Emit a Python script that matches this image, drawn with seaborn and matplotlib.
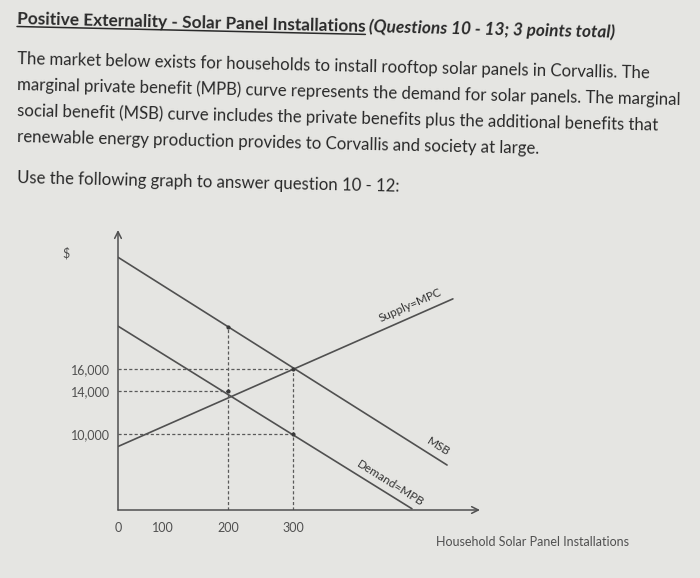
import numpy as np
import pandas as pd
import matplotlib
matplotlib.use("Agg")
import matplotlib.pyplot as plt
from matplotlib.lines import Line2D
import seaborn as sns

# ------------------------------------------------------------------
# Values
# ------------------------------------------------------------------
tick_quantities = [100, 200, 300]
tick_prices = [10000, 14000, 16000]
tick_price_labels = ["10,000", "14,000", "16,000"]

# end points of the three straight curves (installations, $)
msb_q = [31, 537]
msb_price = [26200, 7200]
mpb_q = [31, 483]
mpb_price = [19900, 3200]
mpc_q = [31, 546]
mpc_price = [8900, 22400]

# market and social optimum
q_market, p_market = 200, 14000
q_social, p_social = 300, 16000
p_mpb_at_social = 10000

title_main = "Positive Externality - Solar Panel Installations"
title_note = " (Questions 10 - 13; 3 points total)"
body_lines = [
    "The market below exists for households to install rooftop solar panels in Corvallis. The",
    "marginal private benefit (MPB) curve represents the demand for solar panels. The marginal",
    "social benefit (MSB) curve includes the private benefits plus the additional benefits that",
    "renewable energy production provides to Corvallis and society at large.",
]
question_line = "Use the following graph to answer question 10 - 12:"

# ------------------------------------------------------------------
# Style
# ------------------------------------------------------------------
sns.set_theme(style="white")
plt.rcParams["font.family"] = ["Lato", "DejaVu Sans"]

bg = "#e5e5e2"
ink = "#2a2a2a"
grey = "#505050"
W, H = 700, 578
tilt = 1.3  # the photo is slightly rotated

fig = plt.figure(figsize=(W / 100, H / 100), dpi=100, facecolor=bg)
renderer = fig.canvas.get_renderer()


def put(x, y, s, **kw):
    # x, y are pixels from the top-left corner, y is the baseline
    return fig.text(x / W, 1 - y / H, s, ha="left", va="baseline",
                    rotation=-tilt, rotation_mode="anchor", color=ink, **kw)


# ------------------------------------------------------------------
# Worksheet text
# ------------------------------------------------------------------
t1 = fig.text(17 / W, 1 - 24 / H, title_main, ha="left", va="baseline",
              fontsize=12.4, fontweight="bold", color=ink)
w1 = t1.get_window_extent(renderer).width
t1.set_rotation(-tilt)
t1.set_rotation_mode("anchor")
ang = np.deg2rad(tilt)
put(17 + w1 * np.cos(ang), 24 + w1 * np.sin(ang), title_note,
    fontsize=12.4, fontweight="bold", fontstyle="italic")
# underline of the first part
ux = [17, 17 + w1 * np.cos(ang)]
uy = [26.5, 26.5 + w1 * np.sin(ang)]
fig.add_artist(Line2D([x / W for x in ux], [1 - y / H for y in uy],
                      color=ink, lw=1.1, transform=fig.transFigure))

for i, line in enumerate(body_lines):
    put(17, 64 + 26 * i, line, fontsize=12.1)
put(17, 183, question_line, fontsize=12.1)

# ------------------------------------------------------------------
# Graph
# ------------------------------------------------------------------
ax = fig.add_axes([118 / W, 1 - 510 / H, 362 / W, 280 / H])
ax.patch.set_alpha(0)
x0, x1 = 30.8, 587.7
y0, y1 = 3086, 28700
ax.set_xlim(x0, x1)
ax.set_ylim(y0, y1)

curves = pd.DataFrame({
    "q": msb_q + mpb_q + mpc_q,
    "price": msb_price + mpb_price + mpc_price,
    "curve": ["MSB"] * 2 + ["Demand=MPB"] * 2 + ["Supply=MPC"] * 2,
})
sns.lineplot(data=curves, x="q", y="price", hue="curve",
             palette={"MSB": grey, "Demand=MPB": grey, "Supply=MPC": grey},
             linewidth=1.2, legend=False, ax=ax)

# dashed guide lines
guide = dict(color="#5a5a5a", lw=0.9, ls=(0, (2.5, 1.8)))
ax.plot([x0, q_social], [p_social, p_social], **guide)
ax.plot([x0, q_market], [p_market, p_market], **guide)
ax.plot([x0, q_social], [p_mpb_at_social, p_mpb_at_social], **guide)
msb_at_market = np.interp(q_market, msb_q, msb_price)
ax.plot([q_market, q_market], [y0, msb_at_market], **guide)
ax.plot([q_social, q_social], [y0, p_social], **guide)
ax.plot([q_market, q_social, q_social, q_market],
        [p_market, p_social, p_mpb_at_social, msb_at_market],
        ls="none", marker="o", ms=2.0, color="#3a3a3a")

# axes drawn as arrows
for s in ax.spines.values():
    s.set_visible(False)
ax.annotate("", xy=(1, 0), xytext=(0, 0), xycoords="axes fraction",
            arrowprops=dict(arrowstyle="->", color=grey, lw=1.1, shrinkA=0, shrinkB=0))
ax.annotate("", xy=(0, 1), xytext=(0, 0), xycoords="axes fraction",
            arrowprops=dict(arrowstyle="->", color=grey, lw=1.1, shrinkA=0, shrinkB=0))

ax.set_xticks([x0] + tick_quantities, ["0"] + [str(q) for q in tick_quantities])
ax.set_yticks(tick_prices, tick_price_labels)
ax.tick_params(axis="x", length=0, labelsize=9, colors=grey, pad=9)
ax.tick_params(axis="y", length=0, labelsize=9, colors=grey, pad=6)
ax.get_xticklabels()[0].set_x(x0 - 8)
ax.set_xlabel("")
ax.set_ylabel("")

# curve labels
ax.text(480, 21840, "Supply=MPC", rotation=24, ha="center", va="center",
        fontsize=8.5, color="#333333")
ax.text(523, 8850, "MSB", rotation=-32, ha="center", va="center",
        fontsize=8.5, color="#333333")
ax.text(449, 5560, "Demand=MPB", rotation=-32, ha="center", va="center",
        fontsize=8.5, color="#333333")

fig.text(66 / W, 1 - 253 / H, "$", ha="center", va="center", fontsize=9, color=grey)
fig.text(533 / W, 1 - 542 / H, "Household Solar Panel Installations",
         ha="center", va="center", fontsize=9, color=grey)

fig.savefig("out.png", dpi=100, facecolor=bg)
